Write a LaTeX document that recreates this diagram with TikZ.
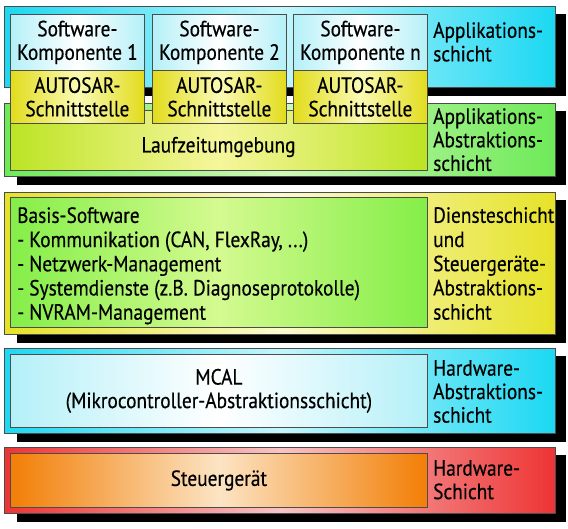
\documentclass[tikz,border=0pt]{standalone}
\usepackage{fontspec}
\setmainfont{PT Sans}[FakeStretch=0.88,FakeBold=0.4]
\usetikzlibrary{positioning,backgrounds}
\definecolor{appcyan}{HTML}{1CD8F2}
\definecolor{appcyanc}{HTML}{C4F6FC}
\definecolor{swcyan}{HTML}{B4F0F8}
\definecolor{rifyel}{HTML}{E2DC1C}
\definecolor{rifyelc}{HTML}{FAFAB4}
\definecolor{rtegreen}{HTML}{6EEA58}
\definecolor{rtegreenc}{HTML}{D0F8B8}
\definecolor{rteyel}{HTML}{BCE424}
\definecolor{rteyelc}{HTML}{F6F69C}
\definecolor{bswyel}{HTML}{E6E228}
\definecolor{bswyelc}{HTML}{FAFAD0}
\definecolor{bswgreen}{HTML}{84EE48}
\definecolor{bswgreenc}{HTML}{D4FA90}
\definecolor{hwred}{HTML}{EE3434}
\definecolor{hwredc}{HTML}{F8C4C4}
\definecolor{ecuorange}{HTML}{F27E06}
\definecolor{ecuorangec}{HTML}{FCE4C4}
\tikzset{
  fade/.style 2 args={left color=#1,right color=#1,middle color=#2},
  layer/.style={draw=black!70,line width=0.8pt,anchor=north west,inner sep=0pt,minimum width=551pt},
  box/.style={draw=black!70,line width=0.8pt,anchor=north west,inner sep=0pt,align=center},
  layertext/.style={anchor=north west,inner sep=0pt,align=left},
}

\begin{document}
\begin{tikzpicture}[x=1pt,y=-1pt,every node/.style={font=\fontsize{22pt}{23.5pt}\selectfont}]
                   \useasboundingbox (0,0) rectangle (568,528);
                   % layers
                   \node[layer,fade={appcyan}{appcyanc},minimum height=81pt] (L_1) at (4,6) {};
                   \node[layer,fade={rtegreen}{rtegreenc},minimum height=73pt] (L_2) at (4,103) {};
                   \node[layer,fade={bswyel}{bswyelc},minimum height=142pt] (L_3) at (4,192) {};
                   \node[layer,fade={appcyan}{appcyanc},minimum height=85pt] (L_4) at (4,348) {};
                   \node[layer,fade={hwred}{hwredc},minimum height=66pt] (L_5) at (4,447) {};
                   \begin{scope}[on background layer]
                    \foreach \l in {L_1,L_2,L_3,L_4,L_5}
                     \fill[black] ([xshift=13pt,yshift=-8pt]\l.north west) rectangle ([xshift=10pt,yshift=-8pt]\l.south east);
                   \end{scope}
                   % inner boxes
                   \node[box,fade={rteyel}{rteyelc},minimum width=417pt,minimum height=60pt] (rte) at (10,110) {};
                   \node at (218.5,147) (rte_t) {Laufzeitumgebung};
                   \foreach \x/\n/\t in {10/1/1,152/2/2,293/n/n} {
                    \node[box,fade={swcyan}{white},minimum width=134pt,minimum height=56pt] (s_\n) at (\x,14) {Software-\\Komponente \t};
                    \node[box,fade={rifyel}{rifyelc},minimum width=134pt,minimum height=53pt] (a_\n) at (\x,70) {AUTOSAR-\\Schnittstelle};
                   }
                   \node[box,fade={bswgreen}{bswgreenc},minimum width=417pt,minimum height=130pt] (bsw) at (10,197) {};
                   \node[layertext,font=\fontsize{22pt}{24.2pt}\selectfont] (bsw_t) at (17,207)
                     {Basis-Software\\- Kommunikation (CAN, FlexRay, ...)\\- Netzwerk-Management\\- Systemdienste (z.B. Diagnoseprotokolle)\\- NVRAM-Management};
                   \node[box,fade={swcyan}{white},minimum width=417pt,minimum height=73pt] (mcal) at (10,354) {MCAL\\(Mikrocontroller-Abstraktionsschicht)};
                   \node[box,fade={ecuorange}{ecuorangec},minimum width=417pt,minimum height=54pt] (ecu) at (10,453) {Steuergerät};
                   % layer names
                   \node[layertext] (n_1) at (433,22) {Applikations-\\schicht};
                   \node[layertext] (n_2) at (433,108) {Applikations-\\Abstraktions-\\schicht};
                   \node[layertext,font=\fontsize{22pt}{24.2pt}\selectfont] (n_3) at (433,207) {Diensteschicht\\und\\Steuergeräte-\\Abstraktions-\\schicht};
                   \node[layertext] (n_4) at (433,360) {Hardware-\\Abstraktions-\\schicht};
                   \node[layertext] (n_5) at (433,460) {Hardware-\\Schicht};
                \end{tikzpicture}
\end{document}
